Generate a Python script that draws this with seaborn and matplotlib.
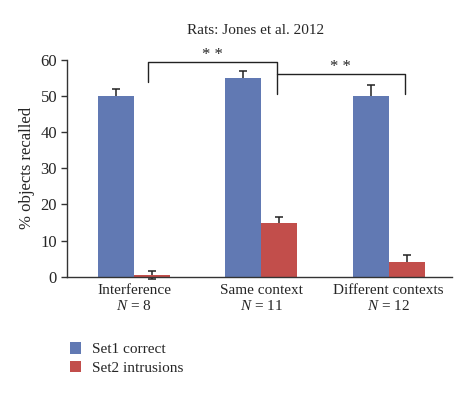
import numpy as np
import pandas as pd
import seaborn as sns
import matplotlib.pyplot as plt
from matplotlib.patches import Patch

conditions = ["Interference", "Same context", "Different contexts"]
n_rats = [8, 11, 12]
series = ["Set1 correct", "Set2 intrusions"]
set1_correct = [50, 55, 50]
set1_err = [2, 2, 3]
set2_intrusions = [0.5, 15, 4]
set2_err = [1, 1.5, 2]
colors = ["#6179b3", "#c24e4b"]

sns.set_style("ticks")
plt.rcParams["font.family"] = ["Liberation Serif", "DejaVu Serif"]
plt.rcParams["mathtext.fontset"] = "custom"
plt.rcParams["mathtext.it"] = "Liberation Serif:italic"
plt.rcParams["mathtext.rm"] = "Liberation Serif"

df = pd.DataFrame({
    "condition": conditions * 2,
    "series": [series[0]] * 3 + [series[1]] * 3,
    "value": set1_correct + set2_intrusions,
    "err": set1_err + set2_err,
})

fig = plt.figure(figsize=(4.74, 3.95), dpi=100)
ax = fig.add_axes([0.141, 0.2995, 0.813, 0.5485])
sns.barplot(df, x="condition", y="value", hue="series", palette=colors,
            width=0.567, saturation=1, gap=0, errorbar=None, legend=False,
            linewidth=0, ax=ax)

# error bars at the bar centres, drawn beneath the bars
for bars, s in zip(ax.containers, series):
    sub = df[df["series"] == s]
    xs = [b.get_x() + b.get_width() / 2 for b in bars]
    ax.errorbar(xs, sub["value"], yerr=sub["err"], fmt="none", ecolor="#222222",
                elinewidth=1.1, capsize=3, capthick=1.1, zorder=0.5, clip_on=False)
for b in ax.patches:
    b.set_zorder(1)

ax.set_ylim(0, 60)
ax.set_xlim(-0.53, 2.5)
ax.set_yticks(range(0, 61, 10))
ax.set_xticks(range(3))
ax.set_xticklabels([f"{c}\n$N$ = {n}" for c, n in zip(conditions, n_rats)],
                   fontsize=11, linespacing=1.2)
ax.tick_params(axis="x", length=0, pad=5)
ax.tick_params(axis="y", labelsize=12, length=4, width=1, color="#333333", pad=3)
ax.set_xlabel("")
ax.set_ylabel("% objects recalled", fontsize=12, labelpad=4)
sns.despine(ax=ax)
for sp in ["left", "bottom"]:
    ax.spines[sp].set_color("#333333")
    ax.spines[sp].set_linewidth(1)

# significance brackets
kw = dict(color="#222222", lw=1, clip_on=False)
ax.plot([0.11, 0.11, 1.12, 1.12], [53.9, 59.5, 59.5, 50.6], **kw)
ax.plot([1.12, 2.13, 2.13], [56.2, 56.2, 50.6], **kw)
ax.text(0.615, 61.4, "* *", ha="center", va="center", fontsize=12)
ax.text(1.625, 58.1, "* *", ha="center", va="center", fontsize=12)

ax.set_title("Rats: Jones et al. 2012", fontsize=11, pad=19, x=0.49)

handles = [Patch(facecolor=c, edgecolor="none") for c in colors]
fig.legend(handles, series, loc="upper left", bbox_to_anchor=(0.118, 0.168),
           bbox_transform=fig.transFigure, frameon=False, fontsize=11,
           handlelength=0.75, handleheight=0.75, handletextpad=0.7, labelspacing=0.3)

fig.savefig("out.png", dpi=100)
